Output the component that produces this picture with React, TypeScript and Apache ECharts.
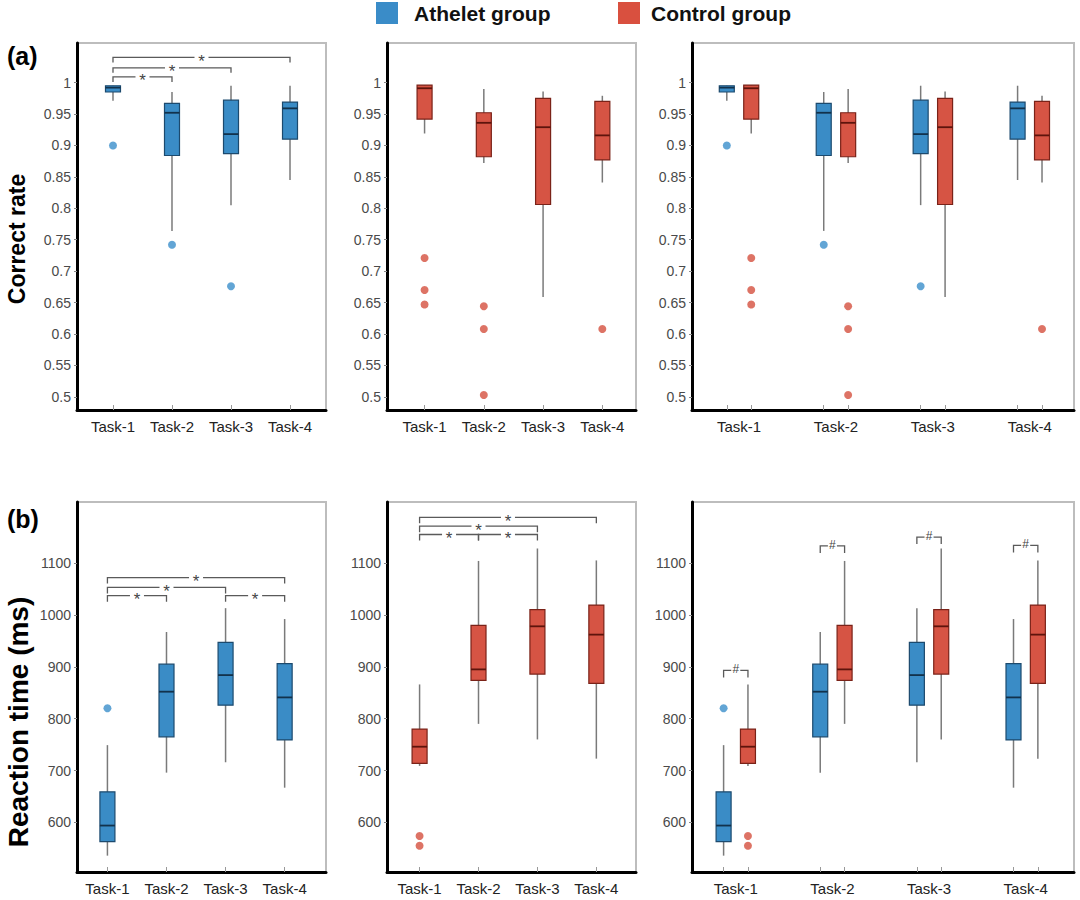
import React, { useEffect, useRef } from 'react';
import * as echarts from 'echarts';

// ---------- data ----------
const TASKS = ['Task-1', 'Task-2', 'Task-3', 'Task-4'];
const TASK_POS = [1, 2, 3, 4];
const LEGEND = ['Athelet group', 'Control group'];

// [lower whisker, Q1, median, Q3, upper whisker]
const athleteCorrect = [
  [0.971, 0.985, 0.992, 0.995, 0.995],
  [0.764, 0.884, 0.952, 0.967, 0.985],
  [0.805, 0.887, 0.918, 0.972, 0.995],
  [0.845, 0.91, 0.959, 0.969, 0.995],
];
const athleteCorrectOutliers = [[0.9], [0.742], [0.676], []];

const controlCorrect = [
  [0.919, 0.942, 0.991, 0.996, 0.996],
  [0.872, 0.882, 0.936, 0.952, 0.99],
  [0.659, 0.806, 0.929, 0.975, 0.986],
  [0.841, 0.877, 0.916, 0.97, 0.979],
];
const controlCorrectOutliers = [[0.721, 0.67, 0.647], [0.644, 0.608, 0.503], [], [0.608]];

const athleteRT = [
  [536, 563, 594, 659, 749],
  [696, 765, 852, 905, 967],
  [716, 826, 884, 947, 1013],
  [667, 759, 841, 906, 992],
];
const athleteRTOutliers = [[820], [], [], []];

const controlRT = [
  [709, 714, 746, 780, 866],
  [790, 874, 895, 980, 1104],
  [760, 886, 978, 1010, 1128],
  [723, 868, 962, 1019, 1105],
];
const controlRTOutliers = [[574, 555], [], [], []];

const CORRECT_TICKS = [0.5, 0.55, 0.6, 0.65, 0.7, 0.75, 0.8, 0.85, 0.9, 0.95, 1];
const RT_TICKS = [600, 700, 800, 900, 1000, 1100];

// significance brackets: [fromTask, toTask, y]
const sigCorrectAthlete = [[1, 4, 1.04], [1, 3, 1.0235], [1, 2, 1.009]];
const sigRTAthlete = [[1, 4, 1072], [1, 3, 1053], [1, 2, 1037], [3, 4, 1037]];
const sigRTControl = [[1, 4, 1188], [1, 3, 1171], [1, 2, 1155], [2, 3, 1155]];
// between-group brackets: [task, y]
const sigRTBetween = [[1, 893], [2, 1133], [3, 1150], [4, 1134]];

// ---------- style ----------
const FONT = "'Liberation Sans', Arial, Helvetica, sans-serif";
const BLUE = { fill: '#3a8cc6', stroke: '#1c4a6e', median: '#12324c', dot: '#3b8fca' };
const RED = { fill: '#d65444', stroke: '#7a2218', median: '#5e140c', dot: '#d4503f' };
const WHISKER = '#7a7a7a';
const BOX_W = 15;
const OFF = 0.126;

const makeBox = (c: any) => (params: any, api: any) => {
  const x = api.value(0);
  const pLo = api.coord([x, api.value(1)]);
  const pQ1 = api.coord([x, api.value(2)]);
  const pMed = api.coord([x, api.value(3)]);
  const pQ3 = api.coord([x, api.value(4)]);
  const pHi = api.coord([x, api.value(5)]);
  const cx = pLo[0];
  const hw = BOX_W / 2;
  return {
    type: 'group',
    children: [
      { type: 'line', shape: { x1: cx, y1: pHi[1], x2: cx, y2: pLo[1] }, style: { stroke: WHISKER, lineWidth: 1.5 } },
      {
        type: 'rect',
        shape: { x: cx - hw, y: pQ3[1], width: BOX_W, height: Math.max(pQ1[1] - pQ3[1], 1) },
        style: { fill: c.fill, stroke: c.stroke, lineWidth: 1.2 },
      },
      { type: 'line', shape: { x1: cx - hw, y1: pMed[1], x2: cx + hw, y2: pMed[1] }, style: { stroke: c.median, lineWidth: 1.8 } },
    ],
  };
};

const makeBracket = (label: string, gap: number, fontSize: number, dy: number, leg: number) => (params: any, api: any) => {
  const a = api.coord([api.value(0), api.value(2)]);
  const b = api.coord([api.value(1), api.value(2)]);
  const x1 = a[0], x2 = b[0], y = a[1];
  const mid = (x1 + x2) / 2;
  const ls = { stroke: '#5a5a5a', lineWidth: 1.3, fill: 'none' };
  return {
    type: 'group',
    children: [
      { type: 'polyline', shape: { points: [[x1, y + leg], [x1, y], [mid - gap / 2, y]] }, style: ls },
      { type: 'polyline', shape: { points: [[mid + gap / 2, y], [x2, y], [x2, y + leg]] }, style: ls },
      {
        type: 'text', x: mid, y: y + dy,
        style: { text: label, fill: '#444', fontSize, fontFamily: FONT, align: 'center', verticalAlign: 'middle' },
      },
    ],
  };
};

const boxSeries = (grid: number, boxes: number[][], c: any, off: number) => ({
  type: 'custom',
  xAxisIndex: grid,
  yAxisIndex: grid,
  renderItem: makeBox(c),
  encode: { x: 0, y: [1, 2, 3, 4, 5] },
  data: boxes.map((b, i) => [TASK_POS[i] + off, ...b]),
  z: 3,
});

const outlierSeries = (grid: number, outs: number[][], c: any, off: number) => ({
  type: 'scatter',
  xAxisIndex: grid,
  yAxisIndex: grid,
  symbol: 'circle',
  symbolSize: 8,
  itemStyle: { color: c.dot },
  data: outs.flatMap((arr, i) => arr.map((v) => [TASK_POS[i] + off, v])),
  z: 4,
});

const bracketSeries = (grid: number, data: number[][], label: string, gap: number, fontSize: number, dy: number, leg: number) => ({
  type: 'custom',
  xAxisIndex: grid,
  yAxisIndex: grid,
  renderItem: makeBracket(label, gap, fontSize, dy, leg),
  encode: { x: [0, 1], y: 2 },
  data,
  z: 2,
});

const GRIDS = [
  { left: 77, top: 43, width: 249, height: 367 },
  { left: 387, top: 43, width: 249, height: 367 },
  { left: 692, top: 43, width: 382, height: 367 },
  { left: 77, top: 502, width: 249, height: 370 },
  { left: 387, top: 502, width: 249, height: 370 },
  { left: 692, top: 502, width: 382, height: 370 },
];
const X_RANGES = [[0.39, 4.61], [0.366, 4.568], [0.515, 4.456], [0.485, 4.7], [0.447, 4.673], [0.547, 4.5]];
const Y_TOP = [0.479, 1.063];
const Y_BOTTOM = [504.5, 1217.6];

function buildOption() {
  const pairTicks = TASK_POS.flatMap((p) => [p - OFF, p + OFF]);
  const xAxis = GRIDS.map((g, i) => ({
    type: 'value',
    gridIndex: i,
    min: X_RANGES[i][0],
    max: X_RANGES[i][1],
    axisLine: { show: true, onZero: false, lineStyle: { color: '#000', width: 3 } },
    axisTick: {
      show: true,
      inside: true,
      length: 5,
      customValues: i === 2 || i === 5 ? pairTicks : TASK_POS,
      lineStyle: { color: '#999', width: 1 },
    },
    axisLabel: {
      customValues: TASK_POS,
      formatter: (v: number) => TASKS[Math.round(v) - 1],
      color: '#222',
      fontSize: 15,
      fontFamily: FONT,
      margin: 9,
    },
    splitLine: { show: false },
  }));
  const yAxis = GRIDS.map((g, i) => {
    const top = i < 3;
    const ticks = top ? CORRECT_TICKS : RT_TICKS;
    const r = top ? Y_TOP : Y_BOTTOM;
    return {
      type: 'value',
      gridIndex: i,
      min: r[0],
      max: r[1],
      axisLine: { show: true, onZero: false, lineStyle: { color: '#000', width: 3 } },
      axisTick: { show: true, length: 3, customValues: ticks, lineStyle: { color: '#888', width: 1 } },
      axisLabel: {
        customValues: ticks,
        formatter: (v: number) => String(v),
        color: '#4a4a4a',
        fontSize: 14,
        fontFamily: FONT,
        margin: 6,
      },
      splitLine: { show: false },
    };
  });

  const series: any[] = [
    // (a) athlete
    bracketSeries(0, sigCorrectAthlete, '*', 14, 17, 4, 5),
    boxSeries(0, athleteCorrect, BLUE, 0),
    outlierSeries(0, athleteCorrectOutliers, BLUE, 0),
    // (a) control
    boxSeries(1, controlCorrect, RED, 0),
    outlierSeries(1, controlCorrectOutliers, RED, 0),
    // (a) both
    boxSeries(2, athleteCorrect, BLUE, -OFF),
    boxSeries(2, controlCorrect, RED, OFF),
    outlierSeries(2, athleteCorrectOutliers, BLUE, -OFF),
    outlierSeries(2, controlCorrectOutliers, RED, OFF),
    // (b) athlete
    bracketSeries(3, sigRTAthlete, '*', 14, 17, 4, 6),
    boxSeries(3, athleteRT, BLUE, 0),
    outlierSeries(3, athleteRTOutliers, BLUE, 0),
    // (b) control
    bracketSeries(4, sigRTControl, '*', 14, 17, 4, 6),
    boxSeries(4, controlRT, RED, 0),
    outlierSeries(4, controlRTOutliers, RED, 0),
    // (b) both
    bracketSeries(5, sigRTBetween.map(([t, y]) => [t - OFF, t + OFF, y]), '#', 9, 12, -1, 7),
    boxSeries(5, athleteRT, BLUE, -OFF),
    boxSeries(5, controlRT, RED, OFF),
    outlierSeries(5, athleteRTOutliers, BLUE, -OFF),
    outlierSeries(5, controlRTOutliers, RED, OFF),
  ];

  const graphic: any[] = [
    { type: 'rect', shape: { x: 376, y: 2, width: 22, height: 22 }, style: { fill: '#3a8cc8' } },
    {
      type: 'text', x: 414, y: 13.5,
      style: { text: LEGEND[0], fill: '#111', fontSize: 21, fontWeight: 'bold', fontFamily: FONT, verticalAlign: 'middle' },
    },
    { type: 'rect', shape: { x: 618, y: 2, width: 22, height: 22 }, style: { fill: '#d9503f' } },
    {
      type: 'text', x: 651, y: 13.5,
      style: { text: LEGEND[1], fill: '#111', fontSize: 21, fontWeight: 'bold', fontFamily: FONT, verticalAlign: 'middle' },
    },
    {
      type: 'text', x: 7, y: 56,
      style: { text: '(a)', fill: '#000', fontSize: 25, fontWeight: 'bold', fontFamily: FONT, verticalAlign: 'middle' },
    },
    {
      type: 'text', x: 7, y: 519,
      style: { text: '(b)', fill: '#000', fontSize: 25, fontWeight: 'bold', fontFamily: FONT, verticalAlign: 'middle' },
    },
    {
      type: 'text', x: 17, y: 239, rotation: Math.PI / 2,
      style: { text: 'Correct rate', fill: '#000', fontSize: 23, fontWeight: 'bold', fontFamily: FONT, align: 'center', verticalAlign: 'middle' },
    },
    {
      type: 'text', x: 18, y: 722, rotation: Math.PI / 2,
      style: { text: 'Reaction time (ms)', fill: '#000', fontSize: 28, fontWeight: 'bold', fontFamily: FONT, align: 'center', verticalAlign: 'middle' },
    },
  ];

  return {
    animation: false,
    backgroundColor: '#fff',
    grid: GRIDS.map((g) => ({ ...g, show: true, borderColor: '#bdbdbd', borderWidth: 2, containLabel: false })),
    xAxis,
    yAxis,
    series,
    graphic,
  };
}

export default function App() {
  const ref = useRef<HTMLDivElement>(null);
  useEffect(() => {
    if (!ref.current) return;
    const chart = echarts.init(ref.current, undefined, { renderer: 'svg' });
    chart.setOption(buildOption() as any);
    return () => chart.dispose();
  }, []);
  return (
    <div
      ref={ref}
      style={{ position: 'fixed', left: 0, top: 0, width: 1080, height: 900, background: '#fff' }}
    />
  );
}
